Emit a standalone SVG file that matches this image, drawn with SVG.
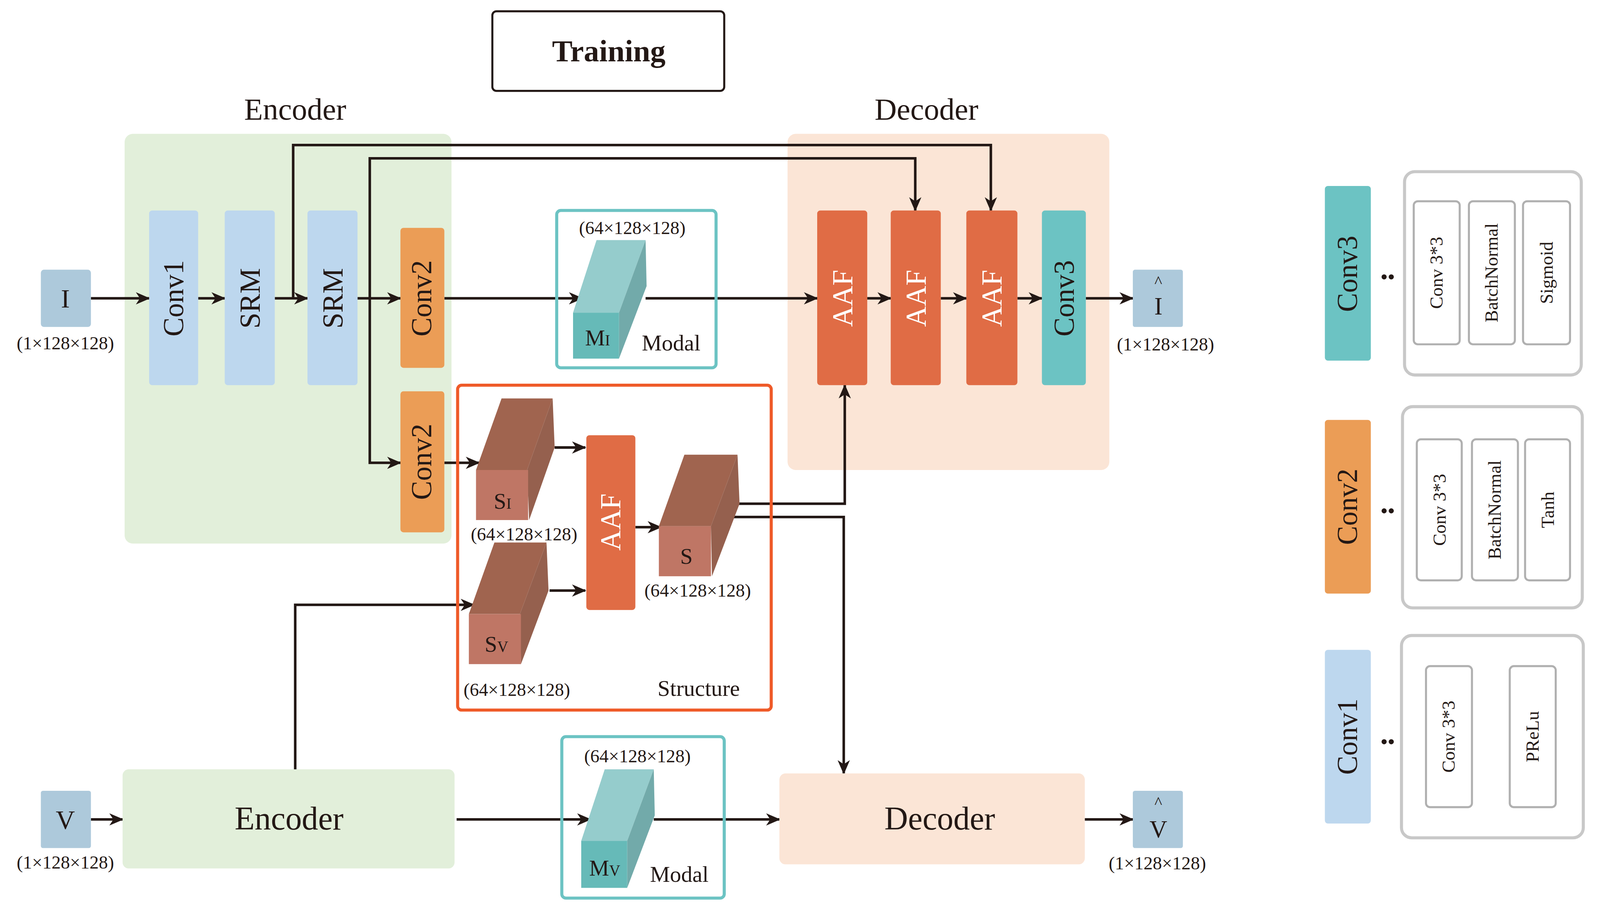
<svg xmlns="http://www.w3.org/2000/svg" width="4103" height="2347" viewBox="0 0 4103 2347">
<defs>
<marker id="ah" markerUnits="userSpaceOnUse" markerWidth="14" markerHeight="12" refX="13" refY="6" orient="auto"><path d="M0,0 L14,6 L0,12 L4,6 Z" fill="#231815"/></marker>
<style>
text{font-family:"Liberation Serif","Times New Roman",serif;fill:#231815}
.c{stroke:#231815;stroke-width:2.5;fill:none}
.a{marker-end:url(#ah)}
.lab{font-size:18px;text-anchor:middle}
.rt{text-anchor:middle;dominant-baseline:central}
.blk{font-size:28px}
.w{fill:#fff}
.leg{fill:#fff;stroke:#c8c8c8;stroke-width:3}
.in{fill:#fff;stroke:#b0b0b0;stroke-width:2}
.ft{fill:#bf7665}.tp{fill:#a0644f}.sd{fill:#95604e}
.mf{fill:#66bab8}.mt{fill:#95cccc}.ms{fill:#72aaaa}
</style>
</defs>
<rect width="4103" height="2347" fill="#fff"/>
<g transform="scale(2.615)">
<g id="bg">
<rect x="122" y="131" width="320" height="401" rx="8" fill="#e2efda"/>
<rect x="771" y="131" width="315" height="329" rx="8" fill="#fbe5d6"/>
</g>
<g id="training"><rect x="482" y="11" width="227" height="78" rx="4" fill="#fff" stroke="#231815" stroke-width="2"/><text x="596" y="60" font-size="30" font-weight="bold" text-anchor="middle" fill="#333">Training</text></g>
<text x="289" y="117" font-size="30" text-anchor="middle" fill="#333">Encoder</text>
<text x="907" y="117" font-size="30" text-anchor="middle" fill="#333">Decoder</text>

<g id="connectors">
<path class="c a" d="M89,292 H146"/>
<path class="c a" d="M194,292 H220"/>
<path class="c a" d="M269,292 H301"/>
<path class="c a" d="M350,292 H392"/>
<path class="c a" d="M435,292 H570"/>
<path class="c a" d="M632,292 H800"/>
<path class="c a" d="M849,292 H872"/>
<path class="c a" d="M921,292 H946"/>
<path class="c a" d="M996,292 H1020"/>
<path class="c a" d="M1063,292 H1109"/>
<path class="c a" d="M287,292 V142 H970 V206"/>
<path class="c a" d="M362,292 V155 H896 V206"/>
<path class="c a" d="M362,292 V453 H392"/>
<path class="c a" d="M435,453 H469"/>
<path class="c a" d="M543,438 H573"/>
<path class="c a" d="M538,578 H573"/>
<path class="c a" d="M622,516 H647"/>
<path class="c a" d="M714,493 H827 V377"/>
<path class="c a" d="M710,506 H826 V757"/>
<path class="c a" d="M289,753 V592 H464"/>
<path class="c a" d="M89,802 H120"/>
<path class="c a" d="M447,802 H578"/>
<path class="c a" d="M640,802 H763"/>
<path class="c a" d="M1062,802 H1109"/>
</g>

<g id="I"><rect x="40" y="264" width="49" height="56" rx="3" fill="#adc9db"/><text x="64" y="301" font-size="26" text-anchor="middle">I</text><text class="lab" x="64" y="342">(1×128×128)</text></g>
<g id="conv1"><rect x="146" y="206" width="48" height="171" rx="3" fill="#bdd7ee"/><text class="rt blk" transform="translate(170,292) rotate(-90)" fill="#5a6470">Conv1</text></g>
<g id="srm1"><rect x="220" y="206" width="49" height="171" rx="3" fill="#bdd7ee"/><text class="rt blk" transform="translate(245,292) rotate(-90)">SRM</text></g>
<g id="srm2"><rect x="301" y="206" width="49" height="171" rx="3" fill="#bdd7ee"/><text class="rt blk" transform="translate(326,292) rotate(-90)">SRM</text></g>
<g id="conv2a"><rect x="392" y="223" width="43" height="137" rx="3" fill="#eb9d56"/><text class="rt blk" transform="translate(413,292) rotate(-90)">Conv2</text></g>
<g id="conv2b"><rect x="392" y="383" width="43" height="138" rx="3" fill="#eb9d56"/><text class="rt blk" transform="translate(413,452) rotate(-90)">Conv2</text></g>

<g id="modalI">
<rect x="545" y="206" width="156" height="154" rx="4" fill="none" stroke="#6cc3c3" stroke-width="3"/>
<text class="lab" x="619" y="229">(64×128×128)</text>
<polygon class="mt" points="561,306 584,235 632,235 606,306"/>
<polygon class="ms" points="606,306 632,235 633,280 606,351"/>
<rect class="mf" x="561" y="306" width="45" height="45"/>
<text x="585" y="338" font-size="22" text-anchor="middle">M<tspan font-size="15">I</tspan></text>
<text x="657" y="343" font-size="22" text-anchor="middle">Modal</text>
</g>

<g id="structure">
<rect x="448" y="377" width="307" height="318" rx="4" fill="none" stroke="#ef5a28" stroke-width="3"/>
<polygon class="tp" points="466,460 491,390 541,390 516,460"/>
<polygon class="sd" points="516,460 541,390 543,438 518,509"/>
<rect class="ft" x="466" y="460" width="51" height="49"/>
<text x="492" y="498" font-size="22" text-anchor="middle">S<tspan font-size="15">I</tspan></text>
<text class="lab" x="513" y="529">(64×128×128)</text>
<polygon class="tp" points="459,601 484,531 535,531 509,601"/>
<polygon class="sd" points="509,601 535,531 537,578 510,650"/>
<rect class="ft" x="459" y="601" width="51" height="49"/>
<text x="486" y="638" font-size="22" text-anchor="middle">S<tspan font-size="15">V</tspan></text>
<text class="lab" x="506" y="681">(64×128×128)</text>
<rect x="574" y="426" width="48" height="171" rx="3" fill="#e06c45"/>
<text class="rt blk w" transform="translate(598,511) rotate(-90)">AAF</text>
<polygon class="tp" points="645,515 670,445 722,445 696,515"/>
<polygon class="sd" points="696,515 722,445 724,493 697,564"/>
<rect class="ft" x="645" y="515" width="51" height="49"/>
<text x="672" y="552" font-size="22" text-anchor="middle">S</text>
<text class="lab" x="683" y="584">(64×128×128)</text>
<text x="684" y="681" font-size="22" text-anchor="middle">Structure</text>
</g>

<g id="aaf1"><rect x="800" y="206" width="49" height="171" rx="3" fill="#e06c45"/><text class="rt blk w" transform="translate(825,292) rotate(-90)">AAF</text></g>
<g id="aaf2"><rect x="872" y="206" width="49" height="171" rx="3" fill="#e06c45"/><text class="rt blk w" transform="translate(897,292) rotate(-90)">AAF</text></g>
<g id="aaf3"><rect x="946" y="206" width="50" height="171" rx="3" fill="#e06c45"/><text class="rt blk w" transform="translate(971,292) rotate(-90)">AAF</text></g>
<g id="conv3"><rect x="1020" y="206" width="43" height="171" rx="3" fill="#6cc3c3"/><text class="rt blk" transform="translate(1042,292) rotate(-90)">Conv3</text></g>
<g id="Ihat"><rect x="1109" y="264" width="49" height="56" rx="2" fill="#adc9db"/><text x="1134" y="308" font-size="24" text-anchor="middle">I</text><text x="1134" y="281" font-size="16" text-anchor="middle">^</text><text class="lab" x="1141" y="343">(1×128×128)</text></g>

<g id="V"><rect x="40" y="774" width="49" height="56" rx="2" fill="#adc9db"/><text x="64" y="811" font-size="26" text-anchor="middle">V</text><text class="lab" x="64" y="850">(1×128×128)</text></g>
<g id="encoder2"><rect x="120" y="753" width="325" height="97" rx="6" fill="#e2efda"/><text x="283" y="812" font-size="32" text-anchor="middle" fill="#333">Encoder</text></g>
<g id="modalV">
<rect x="550" y="721" width="159" height="158" rx="4" fill="none" stroke="#6cc3c3" stroke-width="3"/>
<text class="lab" x="624" y="746">(64×128×128)</text>
<polygon class="mt" points="569,823 592,753 640,753 614,823"/>
<polygon class="ms" points="614,823 640,753 641,798 614,869"/>
<rect class="mf" x="569" y="823" width="45" height="46"/>
<text x="592" y="857" font-size="22" text-anchor="middle">M<tspan font-size="15">V</tspan></text>
<text x="665" y="863" font-size="22" text-anchor="middle">Modal</text>
</g>
<g id="decoder2"><rect x="763" y="757" width="299" height="89" rx="6" fill="#fbe5d6"/><text x="920" y="812" font-size="32" text-anchor="middle" fill="#333">Decoder</text></g>
<g id="Vhat"><rect x="1109" y="774" width="49" height="56" rx="2" fill="#adc9db"/><text x="1134" y="820" font-size="24" text-anchor="middle">V</text><text x="1134" y="791" font-size="16" text-anchor="middle">^</text><text class="lab" x="1133" y="851">(1×128×128)</text></g>

<g id="legend-conv3">
<rect x="1297" y="182" width="45" height="171" rx="3" fill="#6cc3c3"/><text class="rt blk" transform="translate(1319,268) rotate(-90)">Conv3</text>
<circle cx="1355" cy="271" r="2.5" fill="#231815"/><circle cx="1362" cy="271" r="2.5" fill="#231815"/>
<rect class="leg" x="1375" y="168" width="173" height="199" rx="10"/>
<rect class="in" x="1384" y="197" width="45" height="140" rx="4"/><text class="rt" font-size="18" transform="translate(1406,267) rotate(-90)">Conv  3*3</text>
<rect class="in" x="1438" y="197" width="45" height="140" rx="4"/><text class="rt" font-size="18" transform="translate(1460,267) rotate(-90)">BatchNormal</text>
<rect class="in" x="1491" y="197" width="46" height="140" rx="4"/><text class="rt" font-size="18" transform="translate(1514,267) rotate(-90)">Sigmoid</text>
</g>
<g id="legend-conv2">
<rect x="1297" y="411" width="45" height="170" rx="3" fill="#eb9d56"/><text class="rt blk" transform="translate(1319,496) rotate(-90)">Conv2</text>
<circle cx="1355" cy="500" r="2.5" fill="#231815"/><circle cx="1362" cy="500" r="2.5" fill="#231815"/>
<rect class="leg" x="1373" y="398" width="176" height="197" rx="10"/>
<rect class="in" x="1387" y="430" width="44" height="138" rx="4"/><text class="rt" font-size="18" transform="translate(1409,499) rotate(-90)">Conv  3*3</text>
<rect class="in" x="1441" y="430" width="45" height="138" rx="4"/><text class="rt" font-size="18" transform="translate(1463,499) rotate(-90)">BatchNormal</text>
<rect class="in" x="1493" y="430" width="44" height="138" rx="4"/><text class="rt" font-size="18" transform="translate(1515,499) rotate(-90)">Tanh</text>
</g>
<g id="legend-conv1">
<rect x="1297" y="636" width="45" height="170" rx="3" fill="#bdd7ee"/><text class="rt blk" transform="translate(1319,721) rotate(-90)">Conv1</text>
<circle cx="1355" cy="726" r="2.5" fill="#231815"/><circle cx="1362" cy="726" r="2.5" fill="#231815"/>
<rect class="leg" x="1372" y="622" width="178" height="198" rx="10"/>
<rect class="in" x="1396" y="652" width="45" height="138" rx="4"/><text class="rt" font-size="18" transform="translate(1418,721) rotate(-90)">Conv  3*3</text>
<rect class="in" x="1478" y="652" width="45" height="138" rx="4"/><text class="rt" font-size="18" transform="translate(1500,721) rotate(-90)">PReLu</text>
</g>
</g>
</svg>
